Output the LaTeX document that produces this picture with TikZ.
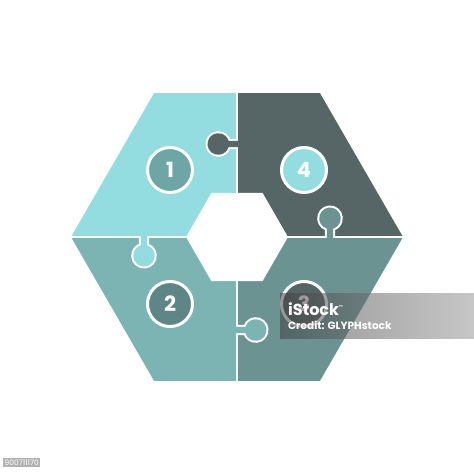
\documentclass[tikz,border=0pt]{standalone}
\usepackage{fontspec}
\setmainfont{Poppins}
\usepackage{xcolor}
\usepackage{tikz}

\definecolor{pone}{HTML}{93DCDF}
\definecolor{ptwo}{HTML}{7BB4B3}
\definecolor{pthree}{HTML}{6B9392}
\definecolor{pfour}{HTML}{566565}
\definecolor{cone}{HTML}{6EA6A5}
\definecolor{ctwo}{HTML}{5E8686}

\begin{document}
\begin{tikzpicture}[
    x = 1pt, y = 1pt,
    gap/.style = {white, line width=2pt},
    numdisc/.style = {
        draw=white, circle, line width=3pt, minimum size=45pt, inner sep=0pt,
        text=white, font=\bfseries\fontsize{21}{21}\selectfont
    },
    mark text/.style = {anchor=base west, inner sep=0pt, text=white},
    pics/knob/.style = {
        code = {
            \draw[white, line width=4pt] (1.2,3.2) -- (8.4,3.2)
                arc[start angle=162.8, end angle=-162.8, radius=10.8] -- (1.2,-3.2);
            \fill[#1] (-1.5,3.2) -- (8.4,3.2)
                arc[start angle=162.8, end angle=-162.8, radius=10.8] -- (-1.5,-3.2) -- cycle;
        }
    }
  ]
    \fill[white] (-237,-237) rectangle (237,237);
    \useasboundingbox (-237,-237) rectangle (237,237);

    % four quarters of the big hexagon
    \begin{scope}
        \clip (166,0) -- (83,143.8) -- (-83,143.8) -- (-166,0) -- (-83,-143.8) -- (83,-143.8) -- cycle;
        \fill[pone] (-170,0) rectangle (0,150);    % 1
        \fill[pfour] (0,0) rectangle (170,150);    % 4
        \fill[ptwo] (-170,-150) rectangle (0,0);   % 2
        \fill[pthree] (0,-150) rectangle (170,0);  % 3
    \end{scope}
    \draw[gap] (0,-146) -- (0,146);
    \draw[gap] (-168,0) -- (168,0);

    % hole in the middle
    \fill[white] (51,0) -- (25.5,44.2) -- (-25.5,44.2) -- (-51,0) -- (-25.5,-44.2) -- (25.5,-44.2) -- cycle;

    % tabs
    \pic[rotate=180] at (0,93) {knob=pfour};   % 4 -> 1
    \pic[rotate=90] at (93,0) {knob=pthree};   % 3 -> 4
    \pic at (0,-93) {knob=ptwo};               % 2 -> 3
    \pic[rotate=-90] at (-93,0) {knob=pone};   % 1 -> 2

    % numbers
    \node[numdisc, fill=cone] (one) at (-67,67) {1};
    \node[numdisc, fill=pone] (four) at (67,67) {4};
    \node[numdisc, fill=ctwo] (two) at (-67,-67) {2};
    \node[numdisc, fill=pfour] (three) at (67,-67) {3};

    % stock marks
    \shade[left color=black!75, right color=black!40, opacity=0.55] (43,-56) rectangle (237,-101);
    \node[mark text, font=\bfseries\fontsize{16}{16}\selectfont] (brand) at (51,-78) {iStock\textsuperscript{\fontsize{4}{4}\selectfont ™}};
    \node[mark text, font=\bfseries\fontsize{10.5}{10.5}\selectfont] (credit) at (51,-92) {Credit: GLYPHstock};
    \node[anchor=west, fill=black!30, text=white, inner sep=1.5pt,
          font=\fontsize{7.5}{7.5}\selectfont] (photoid) at (-234,-225.5) {900711170};
\end{tikzpicture}
\end{document}
